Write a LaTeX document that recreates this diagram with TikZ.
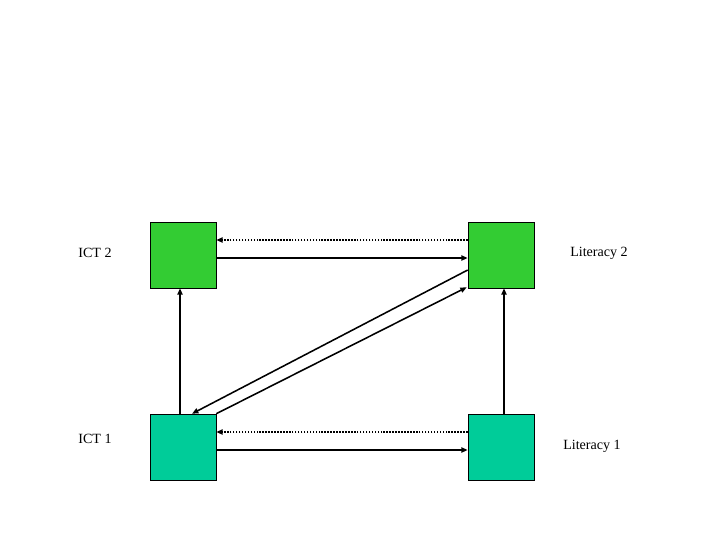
\documentclass[tikz,border=0pt]{standalone}
\usepackage{fontspec}
\setmainfont{Liberation Serif}
\usetikzlibrary{arrows.meta,calc}
\tikzset{
  link/.style={-{Triangle[length=1.6mm,width=1.3mm]}, line width=1.1pt},
  back/.style={link, densely dotted},
  box/.style={draw, thin, minimum size=1.65cm, inner sep=0pt},
  lbl/.style={font=\fontsize{10}{12}\selectfont},
}
\definecolor{ictG}{RGB}{51,204,51}
\definecolor{litT}{RGB}{0,204,153}

\begin{document}
\begin{tikzpicture}[x=0.025cm, y=-0.025cm]
  \useasboundingbox (0,0) rectangle (720,540);
  % boxes
  \node[box, fill=ictG] (ict2) at (183,255) {};
  \node[box, fill=ictG] (lit2) at (501,255) {};
  \node[box, fill=litT] (ict1) at (183,447) {};
  \node[box, fill=litT] (lit1) at (501,447) {};
  % labels
  \node[lbl] (tict2) at (95,253) {ICT 2};
  \node[lbl] (tlit2) at (599,253) {Literacy 2};
  \node[lbl] (tict1) at (95,439) {ICT 1};
  \node[lbl] (tlit1) at (592,446) {Literacy 1};
  % horizontal links
  \draw[back] ($(lit2.west)+(0,-15)$) -- ($(ict2.east)+(0,-15)$);
  \draw[link] ($(ict2.east)+(0,3)$) -- ($(lit2.west)+(0,3)$);
  \draw[back] ($(lit1.west)+(0,-15)$) -- ($(ict1.east)+(0,-15)$);
  \draw[link] ($(ict1.east)+(0,3)$) -- ($(lit1.west)+(0,3)$);
  % vertical links
  \draw[link] ($(ict1.north)+(-3,0)$) -- ($(ict2.south)+(-3,0)$);
  \draw[link] ($(lit1.north)+(3,0)$) -- ($(lit2.south)+(3,0)$);
  % cross-lagged links
  \draw[link] ($(lit2.west)+(0,15)$) -- ($(ict1.north)+(9,0)$);
  \draw[link] (ict1.north east) -- ($(lit2.south west)+(-1,-1)$);
\end{tikzpicture}
\end{document}
